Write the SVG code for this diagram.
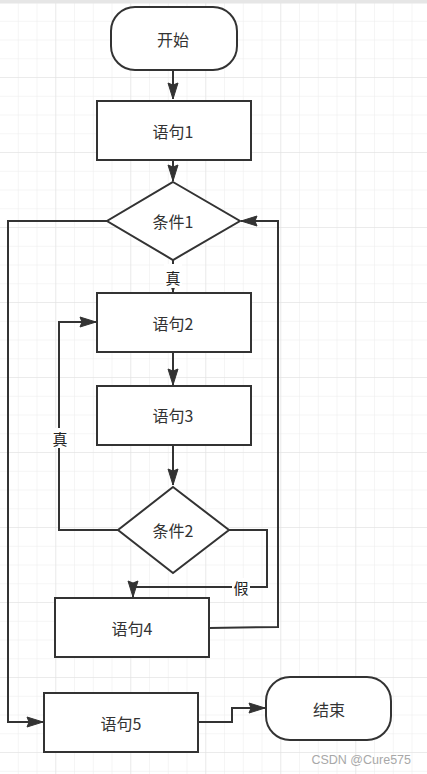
<svg xmlns="http://www.w3.org/2000/svg" width="427" height="774" viewBox="0 0 427 774">
<defs>
<pattern id="minor" x="0" y="3" width="18.75" height="18.75" patternUnits="userSpaceOnUse">
<path d="M18.75,0 V18.75 M0,18.75 H18.75" fill="none" stroke="#ebebeb" stroke-width="1"/>
</pattern>
<pattern id="major" x="-18.75" y="3" width="75" height="75" patternUnits="userSpaceOnUse">
<path d="M75,0 V75 M0,75 H75" fill="none" stroke="#e0e0e0" stroke-width="1"/>
</pattern>
<marker id="arr" markerUnits="userSpaceOnUse" markerWidth="20" markerHeight="14" viewBox="-17 -7 18 14" refX="0" refY="0" orient="auto">
<path d="M0,0 L-16,-5 L-14,0 L-16,5 Z" fill="#333" stroke="#333" stroke-width="1"/>
</marker>
</defs>
<style>
.shape{fill:#fff;stroke:#333;stroke-width:2}
.edge{fill:none;stroke:#333;stroke-width:2}
.lbl{font-family:"Noto Sans CJK SC","Microsoft YaHei",sans-serif;font-size:16px;fill:#333;text-anchor:middle;dominant-baseline:central}
.elbl{font-family:"Noto Sans CJK SC",sans-serif;font-size:15px;fill:#222;text-anchor:middle;dominant-baseline:central}
</style>
<rect width="427" height="774" fill="#fff"/>
<rect width="427" height="774" fill="url(#minor)"/>
<rect width="427" height="774" fill="url(#major)"/>
<rect width="427" height="3.5" fill="#e6e6e6"/>

<g id="connectors">
<path class="edge" d="M173,70 V99" marker-end="url(#arr)"/>
<path class="edge" d="M173,160 V181" marker-end="url(#arr)"/>
<path class="edge" d="M173,260 V292" marker-end="url(#arr)"/>
<path class="edge" d="M173,353 V385" marker-end="url(#arr)"/>
<path class="edge" d="M173,445 V485" marker-end="url(#arr)"/>
<path class="edge" d="M118,530 H59 V322 H96" marker-end="url(#arr)"/>
<path class="edge" d="M229,530 H267 V587 H133 V597" marker-end="url(#arr)"/>
<path class="edge" d="M209,628 L278,627 V221 H241" marker-end="url(#arr)"/>
<path class="edge" d="M107,221 H8 V722 H43" marker-end="url(#arr)"/>
<path class="edge" d="M198,722 H232 V708 H265" marker-end="url(#arr)"/>
<rect x="164" y="264" width="18" height="24" fill="#fff"/>
<text class="elbl" x="173" y="277">真</text>
<rect x="51" y="428" width="18" height="20" fill="#fff"/>
<text class="elbl" x="60" y="438">真</text>
<rect x="232" y="578" width="18" height="20" fill="#fff"/>
<text class="elbl" x="241" y="587">假</text>
</g>

<g id="start">
<rect class="shape" x="111" y="7" width="126" height="63" rx="24" ry="24"/>
<text class="lbl" x="173" y="39">开始</text>
</g>
<g id="s1">
<rect class="shape" x="97" y="101" width="154" height="59"/>
<text class="lbl" x="173" y="131">语句1</text>
</g>
<g id="c1">
<polygon class="shape" points="173,182 240,221 173,260 107,221"/>
<text class="lbl" x="173" y="221">条件1</text>
</g>
<g id="s2">
<rect class="shape" x="97" y="293" width="154" height="59"/>
<text class="lbl" x="173" y="323">语句2</text>
</g>
<g id="s3">
<rect class="shape" x="97" y="386" width="154" height="59"/>
<text class="lbl" x="173" y="415">语句3</text>
</g>
<g id="c2">
<polygon class="shape" points="173,487 229,530 173,573 118,530"/>
<text class="lbl" x="173" y="530">条件2</text>
</g>
<g id="s4">
<rect class="shape" x="55" y="598" width="154" height="59"/>
<text class="lbl" x="132" y="628">语句4</text>
</g>
<g id="s5">
<rect class="shape" x="44" y="693" width="154" height="59"/>
<text class="lbl" x="121" y="723">语句5</text>
</g>
<g id="end">
<rect class="shape" x="266" y="677" width="125" height="63" rx="24" ry="24"/>
<text class="lbl" x="329" y="709">结束</text>
</g>
<text x="411" y="764" text-anchor="end" font-family="'Liberation Sans',Arial,sans-serif" font-size="12.5" fill="#a8a8a8">CSDN @Cure575</text>
</svg>
